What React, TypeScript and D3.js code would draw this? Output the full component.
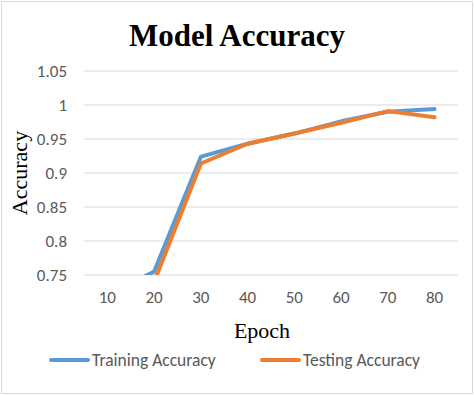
import { scaleBand, scaleLinear, line } from "d3";

const epochs = ["10", "20", "30", "40", "50", "60", "70", "80"];
const trainingAccuracy = [0.72, 0.755, 0.924, 0.943, 0.958, 0.976, 0.99, 0.994];
const testingAccuracy = [0.7, 0.74, 0.914, 0.943, 0.958, 0.974, 0.991, 0.982];
const yTicks = [0.75, 0.8, 0.85, 0.9, 0.95, 1, 1.05];

const W = 474;
const H = 395;
const margin = { top: 71, right: 16, bottom: 120, left: 84 };
const BLUE = "#5B9BD5";
const ORANGE = "#ED7D31";
const SANS = "Carlito, Calibri, 'Open Sans', 'Liberation Sans', sans-serif";
const SERIF = "'Liberation Serif', 'Times New Roman', serif";

export default function App() {
    const plotW = W - margin.left - margin.right;
    const plotH = H - margin.top - margin.bottom;

    const x = scaleBand().domain(epochs).range([0, plotW]);
    const y = scaleLinear().domain([0.75, 1.05]).range([plotH, 0]);
    const cx = (d: string) => (x(d) ?? 0) + x.bandwidth() / 2;

    const path = (vals: number[]) =>
        line<number>()
            .x((_, i) => cx(epochs[i]))
            .y((v) => y(v))(vals) ?? "";

    const series = [
        { name: "Training Accuracy", values: trainingAccuracy, color: BLUE },
        { name: "Testing Accuracy", values: testingAccuracy, color: ORANGE },
    ];

    return (
        <svg width={W} height={H} style={{ position: "absolute", left: 0, top: 0, background: "#fff" }}>
            <rect x={1.5} y={1.5} width={W - 3} height={H - 3} fill="#fff" stroke="#d9d9d9" />
            <text x={237} y={46} textAnchor="middle" fontFamily={SERIF} fontWeight="bold" fontSize={31} fill="#000">
                Model Accuracy
            </text>
            <defs>
                <clipPath id="plot-clip">
                    <rect x={0} y={0} width={plotW} height={plotH} />
                </clipPath>
            </defs>
            <g transform={`translate(${margin.left}, ${margin.top})`}>
                {yTicks.map((t) => (
                    <g key={t}>
                        <line x1={0} x2={plotW} y1={y(t)} y2={y(t)} stroke="#d9d9d9" strokeWidth={1} />
                        <text x={-17} y={y(t)} dy="0.35em" textAnchor="end" fontFamily={SANS} fontSize={17} fill="#595959">
                            {t}
                        </text>
                    </g>
                ))}
                {epochs.map((e) => (
                    <text key={e} x={cx(e)} y={plotH + 28} textAnchor="middle" fontFamily={SANS} fontSize={17} fill="#595959">
                        {e}
                    </text>
                ))}
                <g clipPath="url(#plot-clip)">
                    {series.map((s) => (
                        <path key={s.name} d={path(s.values)} fill="none" stroke={s.color} strokeWidth={4} strokeLinejoin="round" strokeLinecap="round" />
                    ))}
                </g>
            </g>
            <text transform="translate(27, 173) rotate(-90)" textAnchor="middle" fontFamily={SERIF} fontSize={22} fill="#000">
                Accuracy
            </text>
            <text x={262} y={338} textAnchor="middle" fontFamily={SERIF} fontSize={22} fill="#000">
                Epoch
            </text>
            <g fontFamily={SANS} fontSize={17.5} fill="#595959">
                <line x1={51} x2={88} y1={360} y2={360} stroke={BLUE} strokeWidth={4} strokeLinecap="round" />
                <text x={92} y={360} dy="0.35em">Training Accuracy</text>
                <line x1={262} x2={299} y1={360} y2={360} stroke={ORANGE} strokeWidth={4} strokeLinecap="round" />
                <text x={303} y={360} dy="0.35em">Testing Accuracy</text>
            </g>
        </svg>
    );
}
